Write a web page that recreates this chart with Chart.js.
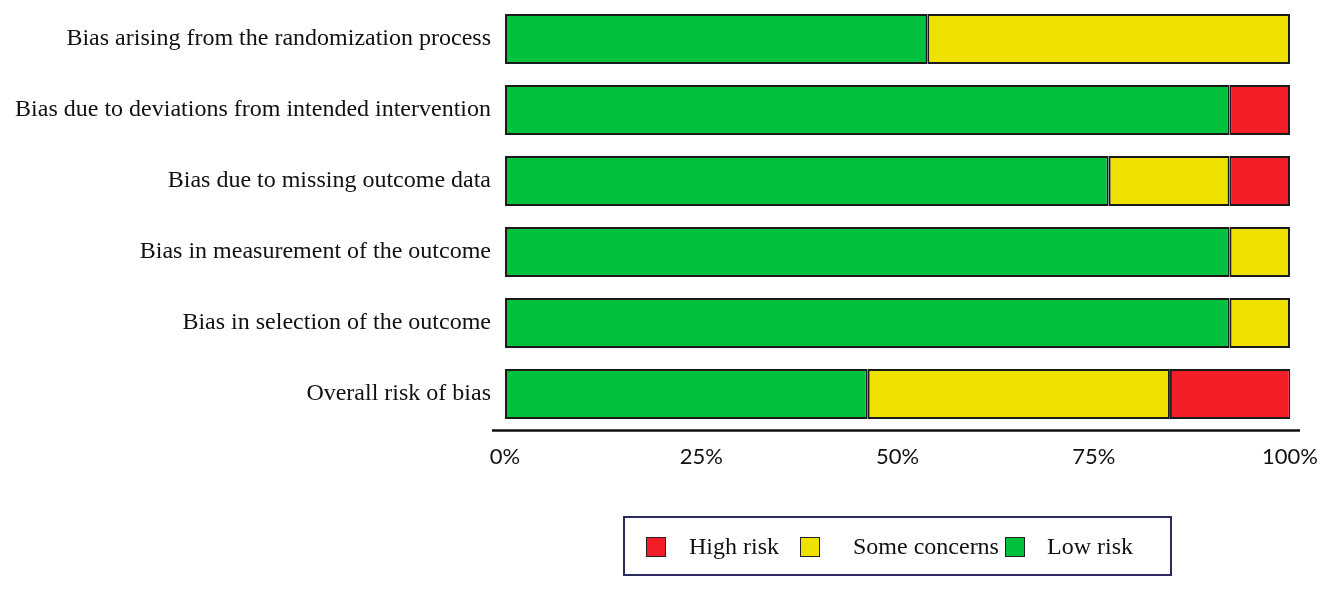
<!DOCTYPE html>
<html>
<head>
<meta charset="utf-8">
<script src="https://cdn.jsdelivr.net/npm/chart.js@4/dist/chart.umd.min.js"></script>
<style>
  body { margin: 0; background: #fff; }
  #wrap { position: relative; width: 1332px; height: 589px; }
  #legend {
    position: absolute; left: 623px; top: 516px; width: 545px; height: 56px;
    border: 2px solid #2b2b5e; box-sizing: content-box;
    font-family: "Liberation Serif", serif; font-size: 24px; color: #111;
  }
  #legend .box { position: absolute; top: 19px; width: 18px; height: 18px; border: 1.5px solid #222; }
  #legend .lbl { position: absolute; top: 15px; line-height: 26px; }
</style>
</head>
<body>
<div id="wrap">
  <canvas id="chart" width="1332" height="589"></canvas>
  <div id="legend"></div>
</div>
<script>
const domains = [
    "Bias arising from the randomization process",
    "Bias due to deviations from intended intervention",
    "Bias due to missing outcome data",
    "Bias in measurement of the outcome",
    "Bias in selection of the outcome",
    "Overall risk of bias"
];
const lowRisk = [53.8, 92.3, 76.9, 92.3, 92.3, 46.2];
const someConcerns = [46.2, null, 15.4, 7.7, 7.7, 38.5];
const highRisk = [null, 7.7, 7.7, null, null, 15.4];
const xTicks = [0, 25, 50, 75, 100];

const green = "#02c13e";
const yellow = "#efe200";
const red = "#f21d27";

// legend (HTML, real text)
const legendItems = [
    { label: "High risk", color: red, box: 21, text: 64 },
    { label: "Some concerns", color: yellow, box: 175, text: 228 },
    { label: "Low risk", color: green, box: 380, text: 422 }
];
const legendEl = document.getElementById("legend");
legendItems.forEach(item => {
    const b = document.createElement("div");
    b.className = "box";
    b.style.left = item.box + "px";
    b.style.background = item.color;
    legendEl.appendChild(b);
    const t = document.createElement("div");
    t.className = "lbl";
    t.style.left = item.text + "px";
    t.textContent = item.label;
    legendEl.appendChild(t);
});

// long axis line under the bars
const axisLine = {
    id: "axisLine",
    afterDraw(chart) {
        const ctx = chart.ctx;
        const a = chart.chartArea;
        ctx.save();
        ctx.strokeStyle = "#111";
        ctx.lineWidth = 2.5;
        ctx.beginPath();
        ctx.moveTo(a.left - 13, a.bottom + 1);
        ctx.lineTo(a.right + 10, a.bottom + 1);
        ctx.stroke();
        ctx.restore();
    }
};

const common = { borderColor: "#1a1a1a", borderWidth: 2, borderSkipped: false, barPercentage: 0.704, categoryPercentage: 1.0 };

new Chart(document.getElementById("chart").getContext("2d"), {
    type: "bar",
    data: {
        labels: domains,
        datasets: [
            Object.assign({ label: "Low risk", data: lowRisk, backgroundColor: green }, common),
            Object.assign({ label: "Some concerns", data: someConcerns, backgroundColor: yellow }, common),
            Object.assign({ label: "High risk", data: highRisk, backgroundColor: red }, common)
        ]
    },
    options: {
        indexAxis: "y",
        responsive: false,
        animation: false,
        devicePixelRatio: 1,
        layout: { padding: { top: 3.5, right: 42, left: 0, bottom: 0 } },
        plugins: { legend: { display: false }, tooltip: { enabled: false } },
        scales: {
            x: {
                stacked: true,
                min: 0, max: 100,
                afterBuildTicks(axis) { axis.ticks = xTicks.map(v => ({ value: v })); },
                afterFit(axis) { axis.height = 159.5; axis.paddingLeft = 0; axis.paddingRight = 0; },
                grid: { display: false },
                border: { display: false },
                ticks: {
                    padding: 6,
                    color: "#111",
                    font: { family: "Lato, 'Open Sans', sans-serif", size: 22 },
                    callback: v => v + "%"
                }
            },
            y: {
                stacked: true,
                afterFit(axis) { axis.width = 505; axis.paddingTop = 0; axis.paddingBottom = 0; },
                grid: { display: false, drawTicks: false },
                border: { display: false },
                ticks: {
                    padding: 14,
                    color: "#111",
                    font: { family: "'Liberation Serif', serif", size: 24 }
                }
            }
        }
    },
    plugins: [axisLine]
});
</script>
</body>
</html>
